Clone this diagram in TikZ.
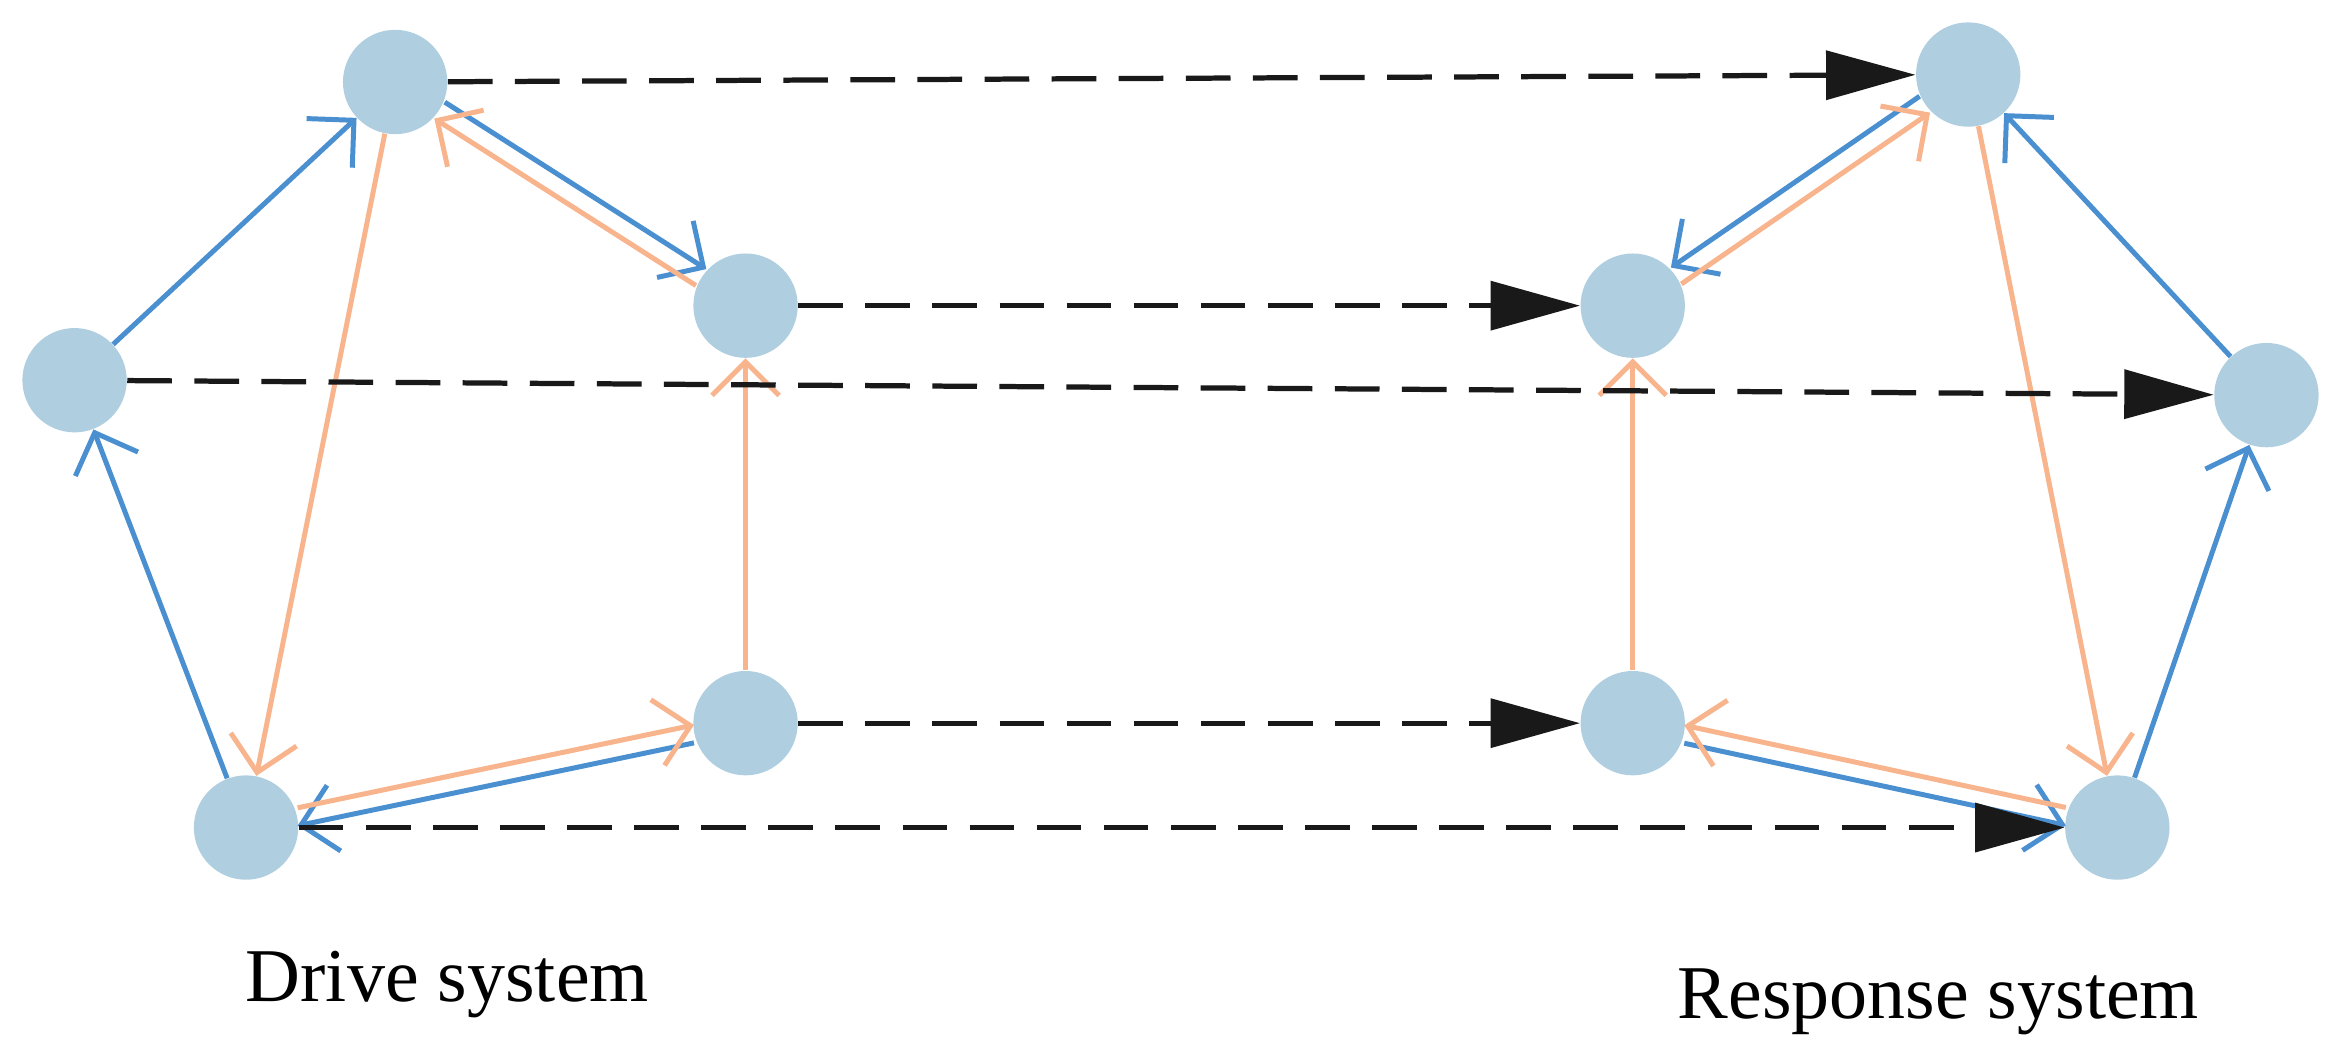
\documentclass[tikz,border=0pt]{standalone}
\usepackage{fontspec}
\setmainfont{Liberation Serif}
\usetikzlibrary{arrows.meta}
\definecolor{nodeblue}{HTML}{AFCFE0}
\definecolor{edgeblue}{HTML}{4A8FCF}
\definecolor{edgeorange}{HTML}{F8B48C}
\begin{document}
\begin{tikzpicture}[x=0.02cm, y=-0.02cm,
    vert/.style={circle, fill=nodeblue, minimum size=1.4cm, inner sep=0pt},
    bl/.style={draw=edgeblue, line width=1.9pt, -{Straight Barb[length=0.45cm, width=0.9cm, line width=1.9pt]}},
    or/.style={draw=edgeorange, line width=1.9pt, -{Straight Barb[length=0.45cm, width=0.9cm, line width=1.9pt]}},
    sync/.style={draw=black!90, line width=2pt, dash pattern=on 0.6cm off 0.3cm, -{Triangle[length=1.2cm, width=0.65cm]}},
    off/.style={transform canvas={shift={#1}}},
    lab/.style={font=\fontsize{29}{34}\selectfont}]
  \useasboundingbox (0,0) rectangle (1568,712);
  % drive system
  \node[vert] (a) at (265,55) {};
  \node[vert] (b) at (50,255) {};
  \node[vert] (c) at (500,205) {};
  \node[vert] (d) at (500,485) {};
  \node[vert] (e) at (165,555) {};
  % response system
  \node[vert] (f) at (1320,50) {};
  \node[vert] (g) at (1095,205) {};
  \node[vert] (h) at (1520,265) {};
  \node[vert] (i) at (1095,485) {};
  \node[vert] (j) at (1420,555) {};
  % drive edges
  \draw[bl] (b) -- (a);
  \draw[bl] (e) -- (b);
  \draw[bl, off={(0.07cm,0.11cm)}] (a) -- (c);
  \draw[or, off={(-0.07cm,-0.11cm)}] (c) -- (a);
  \draw[bl, off={(0cm,-0.12cm)}] (d) -- (e);
  \draw[or, off={(0cm,0.12cm)}] (e) -- (d);
  \draw[or] (a) -- (e);
  \draw[or] (d) -- (c);
  % response edges
  \draw[bl, off={(-0.07cm,0.11cm)}] (f) -- (g);
  \draw[or, off={(0.07cm,-0.11cm)}] (g) -- (f);
  \draw[bl] (h) -- (f);
  \draw[bl] (j) -- (h);
  \draw[bl, off={(0cm,-0.12cm)}] (i) -- (j);
  \draw[or, off={(0cm,0.12cm)}] (j) -- (i);
  \draw[or] (f) -- (j);
  \draw[or] (i) -- (g);
  % synchronisation links
  \draw[sync] (a) -- (f);
  \draw[sync] (c) -- (g);
  \draw[sync] (b) -- (h);
  \draw[sync] (d) -- (i);
  \draw[sync] (e) -- (j);
  \node[lab] (dl) at (300,660) {Drive system};
  \node[lab] (rl) at (1300,672) {Response system};
\end{tikzpicture}
\end{document}
